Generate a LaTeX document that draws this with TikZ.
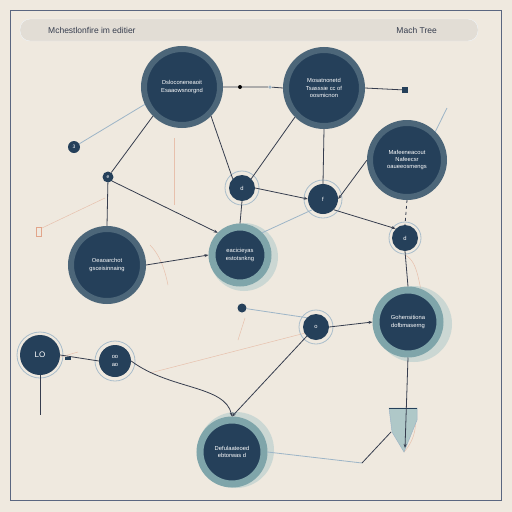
\documentclass[tikz,border=0pt]{standalone}
\usepackage{fontspec}
\setmainfont{Liberation Sans}
\usetikzlibrary{arrows.meta,shadows}
\definecolor{bg}{HTML}{EFE9DF}
\definecolor{navy}{HTML}{25405A}
\definecolor{ringdark}{HTML}{4C6679}
\definecolor{tealring}{HTML}{7FA5AA}
\definecolor{teallight}{HTML}{B4CCCB}
\definecolor{ringlight}{HTML}{A9BDCB}
\definecolor{linedark}{HTML}{363D4E}
\definecolor{lineblue}{HTML}{9DB5C7}
\definecolor{orng}{HTML}{E2A58A}
\definecolor{framec}{HTML}{5A6680}
\definecolor{headfill}{HTML}{E2DDD5}
\begin{document}
\begin{tikzpicture}[x=1pt,y=-1pt,
  nodetext/.style={text=white, font=\fontsize{5.8}{7.2}\selectfont, align=center, inner sep=0pt},
  bignode/.style={circle, fill=navy, draw=ringdark, line width=6pt, minimum size=#1, nodetext,
     drop shadow={opacity=0.18, shadow xshift=2pt, shadow yshift=-2pt}},
  tealnode/.style={circle, fill=navy, draw=tealring, line width=7pt, minimum size=#1, nodetext},
  smallnode/.style={circle, fill=navy, minimum size=#1, nodetext},
  smallring/.style={draw=ringlight, line width=0.8pt},
  dotnode/.style={circle, fill=navy, minimum size=#1, inner sep=0pt, text=white, font=\fontsize{5}{6}\selectfont},
  conn/.style={draw=linedark, line width=0.8pt},
  connlight/.style={draw=lineblue, line width=0.8pt},
  deco/.style={draw=orng, line width=0.5pt, opacity=0.6},
  arr/.style={-{Stealth[length=4pt,width=3pt]}}
]
\fill[bg] (0,0) rectangle (512,512);
\useasboundingbox (0,0) rectangle (512,512);
% frame and header
\draw[framec, line width=0.8pt] (10,10) rectangle (501,500);
\fill[headfill, rounded corners=10pt] (20,19) rectangle (478,41);
\draw[white!85!lineblue, line width=0.4pt, rounded corners=10pt] (20,19) rectangle (478,41);
\node[anchor=west, text=linedark, font=\fontsize{8.5}{10}\selectfont, inner sep=0pt] (ht1) at (48,30) {Mchestlonfire im editier};
\node[anchor=east, text=linedark, font=\fontsize{8.5}{10}\selectfont, inner sep=0pt] (ht2) at (437,30) {Mach Tree};

% decorative faint lines
\draw[deco] (42,228) -- (105,198);
\draw[deco] (150,373) -- (317,330);
\draw[deco] (174,138) -- (174,205);
\draw[deco] (245,318) -- (238,340);
\draw[deco] (405,255) .. controls (420,262) and (418,290) .. (425,300);
\draw[deco] (50,360) -- (78,352);
\draw[deco] (410,408) .. controls (420,420) and (415,440) .. (404,452);
\draw[deco] (150,245) .. controls (160,255) and (165,270) .. (168,285);

% teal halos
\fill[teallight, opacity=0.6] (244,257) circle (34);
\fill[teallight, opacity=0.6] (414,324) circle (38);
\fill[teallight, opacity=0.6] (236,450) circle (38);

% big nodes
\node[bignode=76] (A) at (182,87) {Dsloconeneaoit\\Esaaowsnorgnd};
\node[bignode=76] (B) at (324,88) {Mosatnonetd\\Tsasssie cc of\\oosmicnon};
\node[bignode=74] (C) at (407,160) {Mafeeneacout\\Nafeecsr\\oaueeosmengs};
\node[bignode=72] (D) at (107,265) {Oeaoarchot\\gsceisinnaing};
\node[tealnode=56] (E) at (240,255) {eacicieyas\\estotsnkng};
\node[tealnode=64] (F) at (408,322) {Gohensitiona\\dofbmaserng};
\node[tealnode=64] (G) at (232,452) {Defulaateoed\\ebtorwas d};

% small nodes
\node[smallnode=26] (s1) at (242,188) {d};
\node[smallnode=30] (s2) at (323,199) {f};
\node[smallnode=26] (s3) at (405,238) {d};
\node[smallnode=26] (s4) at (316,327) {o};
\node[smallnode=40, font=\fontsize{8}{9}\selectfont] (s5) at (40,355) {LO};
\node[smallnode=32, rounded corners=8pt] (s6) at (115,361) {oo\\ao};
\foreach \n/\r in {s1/17,s2/19,s3/16,s4/17,s5/23,s6/20}
  \draw[smallring] (\n.center) circle (\r);

% dots
\node[dotnode=12] (d3) at (74,147) {3};
\node[dotnode=11] (de) at (108,177) {e};
\node[dotnode=9] (dm) at (242,308) {};
\node[fill=navy, minimum size=6pt, inner sep=0pt] (sq) at (405,90) {};
\node[draw=orng, minimum width=5pt, minimum height=9pt, inner sep=0pt, line width=0.6pt] (rr) at (39,232) {};
\node[circle, fill=black, minimum size=4pt, inner sep=0pt] (da) at (240,87) {};
\node[circle, fill=lineblue, minimum size=3.5pt, inner sep=0pt] (db) at (270,87) {};
\node[fill=navy, minimum width=6pt, minimum height=3pt, inner sep=0pt] (sr) at (68,358) {};

% pentagon shape
\filldraw[fill=teallight!90!tealring, draw=lineblue, line width=0.5pt] (389,408) -- (417,408) -- (417,420) -- (404,452) -- (392,432) -- cycle;
\draw[navy, line width=1pt] (389,408) -- (417,408);
\coordinate (pl) at (391,432);
\coordinate (pin) at (405,448);
\coordinate (gl) at (362,463);
\coordinate (c1) at (447,108);
\coordinate (s5end) at (40,415);

% connectors
\draw[conn] (A.east) -- (da) -- (db) -- (B.west);
\draw[conn] (B.east) -- (sq);
\draw[connlight] (C.north east) -- (c1);
\draw[conn] (B.south) -- (s2.north);
\draw[conn] (B.south west) -- (s1.north east);
\draw[conn] (A.south west) -- (de);
\draw[conn] (A.south east) -- (s1.north west);
\draw[connlight] (d3) -- (A.205);
\draw[conn] (de) -- (D.north);
\draw[conn, arr] (de.south east) -- (E.north west);
\draw[conn, arr] (D.east) -- (E.west);
\draw[conn, arr] (s1.east) -- (s2.west);
\draw[conn] (s1.south) -- (E.north);
\draw[connlight] (s2.south west) -- (E.north east);
\draw[conn, arr] (C.west) -- (s2.east);
\draw[conn, arr] (s2.south east) -- (s3.north west);
\draw[conn, dashed] (C.south) -- (s3.north);
\draw[conn] (s3.south) -- (F.north);
\draw[conn, arr] (F.south) -- (pin);
\draw[conn, arr] (s4.east) -- (F.west);
\draw[conn, arr] (s4.south west) -- (G.north);
\draw[conn, arr] (s6.east) .. controls (170,390) and (225,385) .. (G.north);
\draw[conn] (s5.east) -- (s6.west);
\draw[conn] (s5.south) -- (s5end);
\draw[connlight] (dm) -- (s4.north west);
\draw[connlight] (G.east) -- (gl);
\draw[conn] (gl) -- (pl);
\end{tikzpicture}
\end{document}
